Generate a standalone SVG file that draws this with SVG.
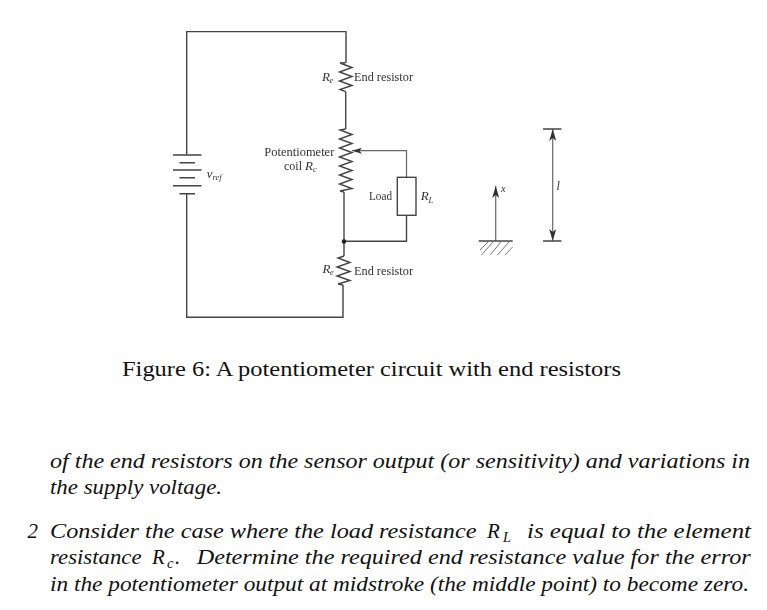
<svg xmlns="http://www.w3.org/2000/svg" width="767" height="610" viewBox="0 0 767 610">
<defs>
<marker id="ah" viewBox="0 0 12 7" refX="12" refY="3.5" markerWidth="12" markerHeight="7" markerUnits="userSpaceOnUse" orient="auto-start-reverse"><path d="M0 0L12 3.500L0 7L3 3.500Z" fill="#333"/></marker>
<marker id="as" viewBox="0 0 10 6" refX="10" refY="3" markerWidth="10" markerHeight="6" markerUnits="userSpaceOnUse" orient="auto"><path d="M0 0L10 3L0 6L2.500 3Z" fill="#333"/></marker>
<filter id="soft" x="0" y="0" width="1" height="1"><feGaussianBlur stdDeviation="0.35"/></filter>
</defs>
<style>
.w{fill:none;stroke:#444;stroke-width:1.4}
.t{stroke:#666;stroke-width:1.2;fill:none}
.h{stroke:#555;stroke-width:.8;fill:none}
.d{font-family:"Liberation Serif",serif;font-size:12px;fill:#333}
.i{font-style:italic}
.r{font-size:13px}
.s{font-size:8.500px}
.b{font-family:"Liberation Serif",serif;font-style:italic;font-size:21px;fill:#111}
.c{font-family:"Liberation Serif",serif;font-size:21px;fill:#111}
.u{font-size:14.500px}
</style>
<rect width="767" height="610" fill="#fff"/>
<g id="figure" filter="url(#soft)">
<g id="connectors">
<path class="w" d="M186.700 155V31.500H346V62.700"/>
<path class="w" d="M345.700 91.700V129"/>
<path class="w" d="M344 192V256"/>
<path class="w" d="M343 285V317.300H186.700V193.700"/>
<path class="t" d="M406.500 177.300V150.700H352" marker-end="url(#as)"/>
<path class="w" d="M406.500 215.300V241.300H344"/>
<path class="t" d="M495.700 241V186" marker-end="url(#ah)"/>
<path class="t" d="M552.700 241V129" marker-start="url(#ah)" marker-end="url(#ah)"/>
</g>
<g id="battery">
<path class="w" d="M173 155H201.500M179.500 162.700H195M173 170H201.500M179.500 177.800H195M173 185.700H201.500M179.500 193.700H195"/>
<text class="d i r" x="206.700" y="177.700">v</text><text class="d i s" x="212.500" y="179.500">ref</text>
</g>
<g id="end-resistor-top">
<path class="w" d="M345.700 62.700L340 63L352 67.500L339.500 72L352 76.500L339.500 81L352 85.500L340 89.500L345.700 91.700"/>
<text class="d i r" x="322" y="81">R</text><text class="d i s" x="329.500" y="83">e</text>
<text class="d" x="354" y="81" textLength="59" lengthAdjust="spacingAndGlyphs">End resistor</text>
</g>
<g id="potentiometer-coil">
<path class="w" d="M345.700 129L340 130L352 134.500L339.500 139L352 143.500L339.500 148L352 152.500L339.500 157L352 161.500L339.500 166L352 170.500L339.500 175L352 179.500L339.500 184L352 188.500L340 191L344 192"/>
<text class="d" x="264.300" y="156" textLength="70" lengthAdjust="spacingAndGlyphs">Potentiometer</text>
<text class="d" x="284" y="169.700">coil</text><text class="d i r" x="305" y="169.700">R</text><text class="d i s" x="313" y="172">c</text>
</g>
<g id="load">
<rect x="397.300" y="177.300" width="18.700" height="38" fill="#fff" stroke="#444" stroke-width="1.400"/>
<text class="d" x="369" y="200" textLength="23" lengthAdjust="spacingAndGlyphs">Load</text>
<text class="d i r" x="420.700" y="200">R</text><text class="d i s" x="428.500" y="202.500">L</text>
</g>
<g id="junction"><circle cx="344" cy="241.500" r="2.300" fill="#222"/></g>
<g id="end-resistor-bottom">
<path class="w" d="M344 256L338 258L350 262.500L337 267L350 271.500L337 276L350 280.500L338 284L343 285"/>
<text class="d i r" x="322.500" y="272.500">R</text><text class="d i s" x="330" y="275">e</text>
<text class="d" x="354" y="275" textLength="59" lengthAdjust="spacingAndGlyphs">End resistor</text>
</g>
<g id="position-x">
<path class="w" d="M478.700 241H512.700"/>
<path class="h" d="M488 242L480 250M493 242L481.500 255M501 242L490 255M509 242L497.500 255M512.500 247L505 255"/>
<text class="d i" x="501" y="192" style="font-size:10.500px">x</text>
</g>
<g id="length-l">
<path class="w" d="M543 129H561.500M543 241H561.500"/>
<text class="d i" x="556.500" y="190">l</text>
</g>
</g>
<g id="caption">
<text class="c" x="122" y="376" textLength="499" lengthAdjust="spacingAndGlyphs">Figure 6: A potentiometer circuit with end resistors</text>
</g>
<g id="body">
<text class="b" x="50" y="468" textLength="700" lengthAdjust="spacingAndGlyphs">of the end resistors on the sensor output (or sensitivity) and variations in</text>
<text class="b" x="50" y="494" textLength="172" lengthAdjust="spacingAndGlyphs">the supply voltage.</text>
<text class="b" x="27.500" y="538">2</text>
<text class="b" x="50" y="538" textLength="426.500" lengthAdjust="spacingAndGlyphs">Consider the case where the load resistance</text>
<text class="b" x="487" y="538">R</text><text class="b u" x="503" y="542">L</text>
<text class="b" x="527" y="538" textLength="224" lengthAdjust="spacingAndGlyphs">is equal to the element</text>
<text class="b" x="50" y="564" textLength="91.500" lengthAdjust="spacingAndGlyphs">resistance</text>
<text class="b" x="152" y="564">R</text><text class="b u" x="167" y="568">c</text><text class="b" x="175" y="564">.</text>
<text class="b" x="196.700" y="564" textLength="554" lengthAdjust="spacingAndGlyphs">Determine the required end resistance value for the error</text>
<text class="b" x="50" y="590.500" textLength="699" lengthAdjust="spacingAndGlyphs">in the potentiometer output at midstroke (the middle point) to become zero.</text>
</g>
</svg>
